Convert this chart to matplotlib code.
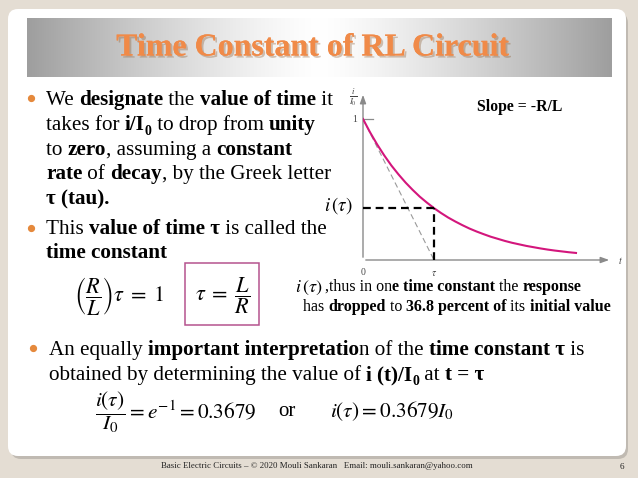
import numpy as np
import matplotlib
matplotlib.use("Agg")
import matplotlib.pyplot as plt
import matplotlib.patheffects as pe
from matplotlib.patches import FancyBboxPatch, Rectangle

plt.rcParams['mathtext.fontset'] = 'stix'

# ---- data ----
t_vals = [0.0, 0.1, 0.2, 0.3, 0.4, 0.5, 0.6, 0.7, 0.8, 0.9, 1.0,
          1.1, 1.2, 1.3, 1.4, 1.5, 1.6, 1.7, 1.8, 1.9, 2.0,
          2.1, 2.2, 2.3, 2.4, 2.5, 2.6, 2.7, 2.8, 2.9, 3.0]
i_vals = [1.00, 0.905, 0.819, 0.741, 0.670, 0.607, 0.549, 0.497, 0.449, 0.407, 0.368,
          0.333, 0.301, 0.273, 0.247, 0.223, 0.202, 0.183, 0.165, 0.150, 0.135,
          0.122, 0.111, 0.100, 0.091, 0.082, 0.074, 0.067, 0.061, 0.055, 0.050]
tau = 1.0
i_tau = 0.368
tangent_t = [0.0, 1.0]
tangent_i = [1.0, 0.0]
x_tick_labels = ["0", r"$\tau$"]
y_tick_labels = ["1"]

W, H = 638, 478
fig = plt.figure(figsize=(W / 100, H / 100), dpi=100)
fig.patch.set_facecolor('#e4ddd3')
bg = fig.add_axes([0, 0, 1, 1])
bg.set_xlim(0, W)
bg.set_ylim(H, 0)
bg.axis('off')

# slide panel with shadow
bg.add_patch(FancyBboxPatch((11, 13), 617, 446, boxstyle="round,pad=0,rounding_size=10",
                            fc='#a9a49c', ec='none', alpha=0.6, zorder=1))
bg.add_patch(FancyBboxPatch((8, 9), 618, 447, boxstyle="round,pad=0,rounding_size=10",
                            fc='white', ec='none', zorder=2))

# title band gradient
grad = np.abs(np.linspace(-1, 1, 300))
grad = 1 - 0.38 * grad ** 1.3
img = np.dstack([grad, grad, grad])
img = np.repeat(img, 2, axis=0)
bg.imshow(img, extent=(27, 612, 77, 18), aspect='auto', zorder=3, interpolation='bilinear')
bg.set_xlim(0, W)
bg.set_ylim(H, 0)

serif = 'Liberation Serif'
bg.text(313, 48, "Time Constant of RL Circuit", fontsize=23, fontweight='bold', family=serif,
        color='#f08a48', ha='center', va='center', zorder=5,
        path_effects=[pe.withSimplePatchShadow(offset=(1.5, -1.5), shadow_rgbFace='#8a5a30', alpha=0.35),
                      pe.Normal()])

fig.canvas.draw()
renderer = fig.canvas.get_renderer()


def twidth(s, size, weight):
    a = bg.text(0, 0, "x" + s + "x", fontsize=size, fontweight=weight, family=serif)
    b = bg.text(0, 0, "xx", fontsize=size, fontweight=weight, family=serif)
    w = a.get_window_extent(renderer).width - b.get_window_extent(renderer).width
    a.remove()
    b.remove()
    return w


def rich(x, y, parts, size):
    for p in parts:
        s, st = p
        weight = 'bold' if 'b' in st else 'normal'
        sz = size * 0.65 if 's' in st else size
        yy = y + size * 0.35 if 's' in st else y
        bg.text(x, yy, s, fontsize=sz, fontweight=weight, family=serif, va='baseline',
                ha='left', zorder=6, color='black')
        x += twidth(s, sz, weight)
    return x


def bullet(x, y):
    bg.plot([x], [y], 'o', ms=4.2, color='#e5893c', zorder=6)


FS = 15.2
LX = 46
bullet(31, 98)
rich(LX, 105, [("We ", ""), ("designate", "b"), (" the ", ""), ("value of time", "b"), (" it", "")], FS)
rich(LX, 130, [("takes for ", ""), ("i/I", "b"), ("0", "bs"), (" to drop from ", ""), ("unity", "b")], FS)
rich(LX, 155, [("to ", ""), ("zero", "b"), (", assuming a ", ""), ("constant", "b")], FS)
rich(LX, 179, [("rate", "b"), (" of ", ""), ("decay", "b"), (", by the Greek letter", "")], FS)
rich(LX, 204, [("\u03c4 (tau).", "b")], FS)
bullet(31, 228)
rich(LX, 234, [("This ", ""), ("value of time \u03c4", "b"), (" is called the", "")], FS)
rich(LX, 258, [("time constant", "b")], FS)

bullet(33, 348)
rich(49, 355, [("An equally ", ""), ("important interpretatio", "b"), ("n of the ", ""),
               ("time constant \u03c4", "b"), (" is", "")], FS)
rich(49, 380, [("obtained by determining the value of ", ""), ("i (t)/I", "b"), ("0", "bs"),
               (" at ", ""), ("t = \u03c4", "b")], FS)

# equations
bg.text(74, 296, r"$\left(\dfrac{R}{L}\right)\tau\;=\;1$", fontsize=16, va='center', ha='left', zorder=6)
bg.add_patch(Rectangle((185, 263), 74, 62, fill=False, ec='#b5538e', lw=1.1, zorder=6))
bg.text(195, 296, r"$\tau\;=\;\dfrac{L}{R}$", fontsize=16, va='center', ha='left', zorder=6)

bg.text(95, 412, r"$\dfrac{i(\tau)}{I_0} = e^{-1} = 0.3679$", fontsize=15.3, va='center', ha='left', zorder=6)
bg.text(278, 411, "or", fontsize=15, family=serif, va='center', ha='left', zorder=6)
bg.text(330, 411, r"$i(\tau) = 0.3679I_0$", fontsize=15.3, va='center', ha='left', zorder=6)

# note under graph
bg.text(295, 292, r"$i\,(\tau)$", fontsize=13, va='baseline', ha='left', zorder=6)
rich(325, 291, [(",thus in on", ""), ("e time constant", "b"), (" the ", ""), ("response", "b")], 11.5)
rich(303, 311, [("has ", ""), ("dropped", "b"), (" to ", ""), ("36.8 percent of", "b"),
                (" its ", ""), ("initial value", "b")], 11.5)

bg.text(477, 107, "Slope = -R/L", fontsize=11.3, fontweight='bold', family=serif, va='center',
        ha='left', zorder=6)

# footer
bg.text(317, 466, "Basic Electric Circuits \u2013 \u00a9 2020 Mouli Sankaran   Email: mouli.sankaran@yahoo.com",
        fontsize=6.4, family=serif, ha='center', va='center', color='#222222', zorder=6)
bg.text(622, 467, "6", fontsize=6.5, family=serif, ha='center', va='center', color='#222222', zorder=6)

# ---- the chart ----
x0, x1, yb, yt = 363, 612, 260, 92
ax = fig.add_axes([x0 / W, (H - yb) / H, (x1 - x0) / W, (yb - yt) / H])
ax.set_facecolor('none')
px_tau = 71.0
px_one = 141.0
ax.set_xlim(0, (x1 - x0) / px_tau)
ax.set_ylim(0, (yb - yt) / px_one)
for s in ax.spines.values():
    s.set_visible(False)
ax.set_xticks([])
ax.set_yticks([])
axc = '#8a8a8a'
ax.annotate("", xy=(1, 0), xytext=(0, 0), xycoords='axes fraction',
            arrowprops=dict(arrowstyle='-|>,head_length=0.5,head_width=0.18', color=axc, lw=1))
ax.annotate("", xy=(0, 1), xytext=(0, 0), xycoords='axes fraction',
            arrowprops=dict(arrowstyle='-|>,head_length=0.5,head_width=0.18', color=axc, lw=1))
ax.plot([0, 0.14], [1, 1], color=axc, lw=0.9, clip_on=False)

ax.plot(tangent_t, tangent_i, color='#9a9a9a', lw=0.8, ls=(0, (5, 3)), zorder=3)
ax.plot(t_vals, i_vals, color='#d3167c', lw=1.5, zorder=4)
ax.plot([0, tau], [i_tau, i_tau], color='black', lw=1.6, ls=(0, (3.5, 2.2)), zorder=5)
ax.plot([tau, tau], [0, i_tau], color='black', lw=1.6, ls=(0, (3.5, 2.2)), zorder=5)

ax.text(0, -0.06, x_tick_labels[0], fontsize=7, family=serif, color='#444444', ha='center', va='top')
ax.text(tau, -0.06, x_tick_labels[1], fontsize=7, color='#444444', ha='center', va='top')
ax.text(-0.08, 1.0, y_tick_labels[0], fontsize=7, family=serif, color='#444444', ha='right', va='center')
ax.text((x1 - x0) / px_tau + 0.08, 0, "$t$", fontsize=7, color='#444444', ha='left', va='center')
ax.text(-0.14, (yb - 97) / px_one, r"$\frac{i}{I_0}$", fontsize=9, color='#444444', ha='center', va='center')
ax.text(-0.15, i_tau + 0.02, r"$i\,(\tau)$", fontsize=13.5, color='black', ha='right', va='center')

fig.savefig("out.png", dpi=100, facecolor=fig.get_facecolor())
